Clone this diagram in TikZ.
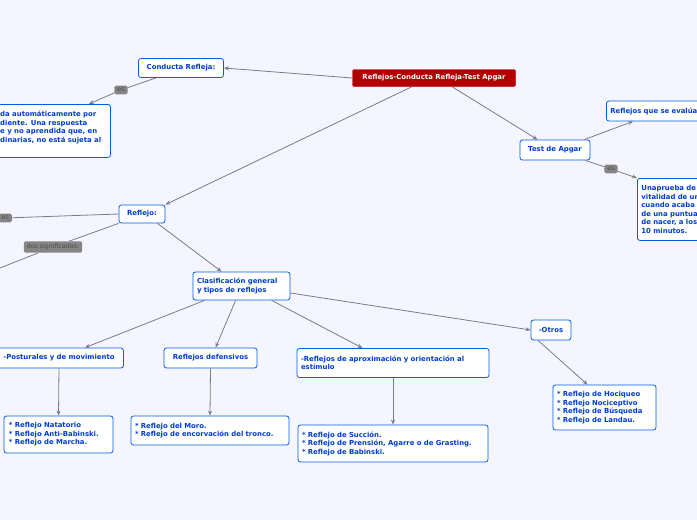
\documentclass[tikz,border=0pt]{standalone}
\usepackage{fontspec}
\setmainfont{DejaVu Sans}
\usetikzlibrary{arrows.meta}
\begin{document}
\begin{tikzpicture}[x=1pt,y=-1pt,
  every node/.style={font=\bfseries\fontsize{6.9}{8.5}\selectfont},
  topic/.style={draw=blue!60!cyan!90!black,line width=0.8pt,fill=white,rounded corners=2.5pt,text=blue!70!cyan!80!black,align=left,inner sep=0pt},
  lbl/.style={fill=black!48,rounded corners=1.5pt,text=black!70,font=\fontsize{6.3}{7}\selectfont,inner xsep=3pt,inner ysep=2.5pt},
  conn/.style={draw=gray!65!blue!40!black!60,line width=0.8pt},
  arr/.style={conn,-{Stealth[length=5pt,width=4pt]}}]
\useasboundingbox (0,0) rectangle (697,520);
\clip (0,0) rectangle (697,520);
\fill[blue!4] (0,0) rectangle (697,520);
% nodes
\node[draw=red!70!black,fill=red!70!black,text=white,rounded corners=1.5pt,minimum width=163pt,minimum height=17pt,inner sep=0pt] (root) at (434,78) {Reflejos-Conducta Refleja-Test Apgar};
\node[topic,minimum width=85pt,minimum height=19pt,align=center] (cond) at (181,68) {Conducta Refleja:};
\node[topic,minimum width=120pt,minimum height=53pt,anchor=north west] (def) at (-10,104) {};
\node[anchor=north west,text=blue!70!cyan!80!black,align=left,inner sep=0pt,font=\bfseries\fontsize{6.9}{8.5}\selectfont] (deft) at (0,111) {da automáticamente por\\diente. Una respuesta\\e y no aprendida que, en\\dinarias, no está sujeta al};
\node[topic,minimum width=46pt,minimum height=18pt,align=center] (ref) at (142,214) {Reflejo:};
\node[topic,minimum width=97pt,minimum height=28pt,text width=89pt] (clas) at (241.5,286) {Clasificación general\\y tipos de reflejos};
\node[topic,minimum width=70pt,minimum height=20pt,align=center] (apgar) at (555,150) {Test de Apgar};
\node[topic,minimum width=100pt,minimum height=20pt,anchor=west,text width=92pt] (eval) at (606,111) {Reflejos que se evalúan};
\node[topic,minimum width=70pt,minimum height=62pt,anchor=north west,text width=62pt] (una) at (637,178) {Unaprueba de\\vitalidad de un\\cuando acaba\\de una puntua\\de nacer, a los\\10 minutos.};
\node[topic,minimum width=128pt,minimum height=20pt,anchor=west,text width=124pt] (post) at (-5,358) {\hspace*{6pt}-Posturales y de movimiento};
\node[topic,minimum width=93pt,minimum height=20pt,align=center] (def2) at (210.5,358) {Reflejos defensivos};
\node[topic,minimum width=192pt,minimum height=29pt,text width=184pt] (aprox) at (393,363) {-Reflejos de aproximación y orientación al\\\relax estímulo};
\node[topic,minimum width=40pt,minimum height=20pt,align=center] (otros) at (551,330) {-Otros};
\node[topic,minimum width=109pt,minimum height=37pt,text width=99pt] (l1) at (58.5,434.5) {* Reflejo Natatorio\\\relax * Reflejo Anti-Babinski.\\\relax * Reflejo de Marcha.};
\node[topic,minimum width=158pt,minimum height=29pt,text width=150pt] (l2) at (210,430.5) {* Reflejo del Moro.\\\relax * Reflejo de encorvación del tronco.};
\node[topic,minimum width=190pt,minimum height=37pt,text width=182pt] (l3) at (393,443.5) {* Reflejo de Succión.\\\relax * Reflejo de Prensión, Agarre o de Grasting.\\\relax * Reflejo de Babinski.};
\node[topic,minimum width=103pt,minimum height=45pt,text width=95pt] (l4) at (604.5,407.5) {* Reflejo de Hociqueo\\\relax * Reflejo Nociceptivo\\\relax * Reflejo de Búsqueda\\\relax * Reflejo de Landau.};
% labels
\node[lbl] (es1) at (121,90) {es};
\node[lbl] (es2) at (611,169) {es};
\node[lbl,anchor=east] (es3) at (12,218) {es};
\node[lbl] (dos) at (53,247) {dos significados:};
\coordinate (lft) at (-5,270);
% connectors
\draw[arr] (root.west) -- (cond.east);
\draw[conn] ([xshift=-25pt]cond.south) -- (es1);
\draw[arr] (es1) -- ([xshift=-22pt]def.north east);
\draw[arr] ([xshift=-22pt]root.south) -- (ref.north east);
\draw[arr] ([xshift=18pt]root.south) -- ([xshift=18pt]apgar.north west);
\draw[arr] ([xshift=-6pt]apgar.north east) -- ([xshift=27pt]eval.south west);
\draw[conn] ([xshift=-5pt]apgar.south east) -- (es2);
\draw[arr] (es2) -- (una.north west);
\draw[conn] (ref.west) -- (es3);
\draw[conn] (ref.south west) -- (dos);
\draw[conn] (dos) -- (lft);
\draw[arr] ([xshift=-8pt]ref.south east) -- ([xshift=29pt]clas.north west);
\draw[arr] ([xshift=12pt]clas.south west) -- ([xshift=90pt]post.north west);
\draw[arr] ([xshift=43pt]clas.south west) -- ([xshift=52pt]def2.north west);
\draw[arr] ([xshift=79pt]clas.south west) -- ([xshift=66pt]aprox.north west);
\draw[arr] ([yshift=-7pt]clas.east) -- (otros.west);
\draw[arr] ([xshift=64pt]post.south west) -- (l1.north);
\draw[arr] (def2.south) -- (l2.north);
\draw[arr] (aprox.south) -- (l3.north);
\draw[arr] ([xshift=-13pt]otros.south) -- ([xshift=-17pt]l4.north);
\end{tikzpicture}
\end{document}
